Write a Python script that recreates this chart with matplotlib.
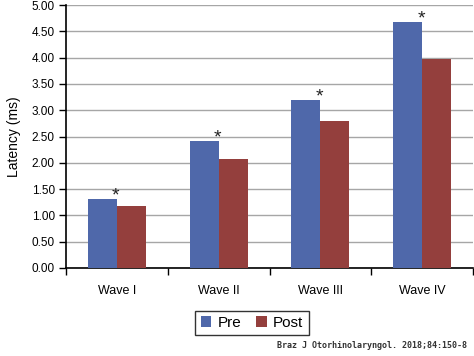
import matplotlib

matplotlib.use("Agg")
import matplotlib.pyplot as plt
import numpy as np

plt.rcParams["font.family"] = ["Liberation Sans", "DejaVu Sans"]

waves = ["Wave I", "Wave II", "Wave III", "Wave IV"]
pre = [1.32, 2.42, 3.20, 4.68]
post = [1.18, 2.07, 2.80, 3.98]
significant = [True, True, True, True]

PRE_COLOR = "#4F68AA"
POST_COLOR = "#943F3D"

fig = plt.figure(figsize=(4.74, 3.56), dpi=100)
ax = fig.add_axes([66 / 474, 88 / 356, 407 / 474, 263 / 356])

x = np.arange(len(waves))
width = 0.285
ax.bar(x - width / 2, pre, width, color=PRE_COLOR, label="Pre", zorder=3)
ax.bar(x + width / 2, post, width, color=POST_COLOR, label="Post", zorder=3)

# asterisk marks the significant pre/post difference
for xi, val, sig in zip(x, pre, significant):
    if sig:
        ax.text(xi - 0.01, val - 0.03, "*", ha="center", va="baseline",
                fontsize=14, color="#222222", zorder=4)

ax.set_xlim(-0.5, len(waves) - 0.5)
ax.set_ylim(0, 5)
ax.set_yticks(np.arange(0, 5.01, 0.5))
ax.set_yticklabels([f"{v:.2f}" for v in np.arange(0, 5.01, 0.5)], fontsize=8.5)
ax.set_xticks(x)
ax.set_xticklabels(waves, fontsize=9)
ax.set_xticks(np.arange(-0.5, len(waves), 1.0), minor=True)
ax.tick_params(axis="x", which="major", length=0, pad=12)
ax.tick_params(axis="x", which="minor", length=5, width=1, color="black")
ax.tick_params(axis="y", length=5, width=1, color="black", pad=3)

ax.grid(axis="y", color="#A6A6A6", linewidth=1.0, zorder=0)
ax.set_axisbelow(True)
for side in ["top", "right"]:
    ax.spines[side].set_visible(False)
ax.spines["left"].set_linewidth(1.2)
ax.spines["bottom"].set_linewidth(1.2)

ax.set_ylabel("Latency (ms)", fontsize=10, labelpad=8)

leg = fig.legend(loc="center", bbox_to_anchor=(252 / 474, 1 - 323 / 356),
                 ncol=2, frameon=True, fancybox=False, fontsize=11,
                 handlelength=0.7, handleheight=0.7, handletextpad=0.4,
                 columnspacing=1.0, borderpad=0.35)
leg.get_frame().set_edgecolor("black")
leg.get_frame().set_linewidth(1.0)

fig.text(0.985, 1 - 346 / 356, "Braz J Otorhinolaryngol. 2018;84:150-8",
         ha="right", va="center", fontsize=6, family="DejaVu Sans Mono",
         fontweight="bold", color="#333333")

fig.savefig("out.png", dpi=100)
